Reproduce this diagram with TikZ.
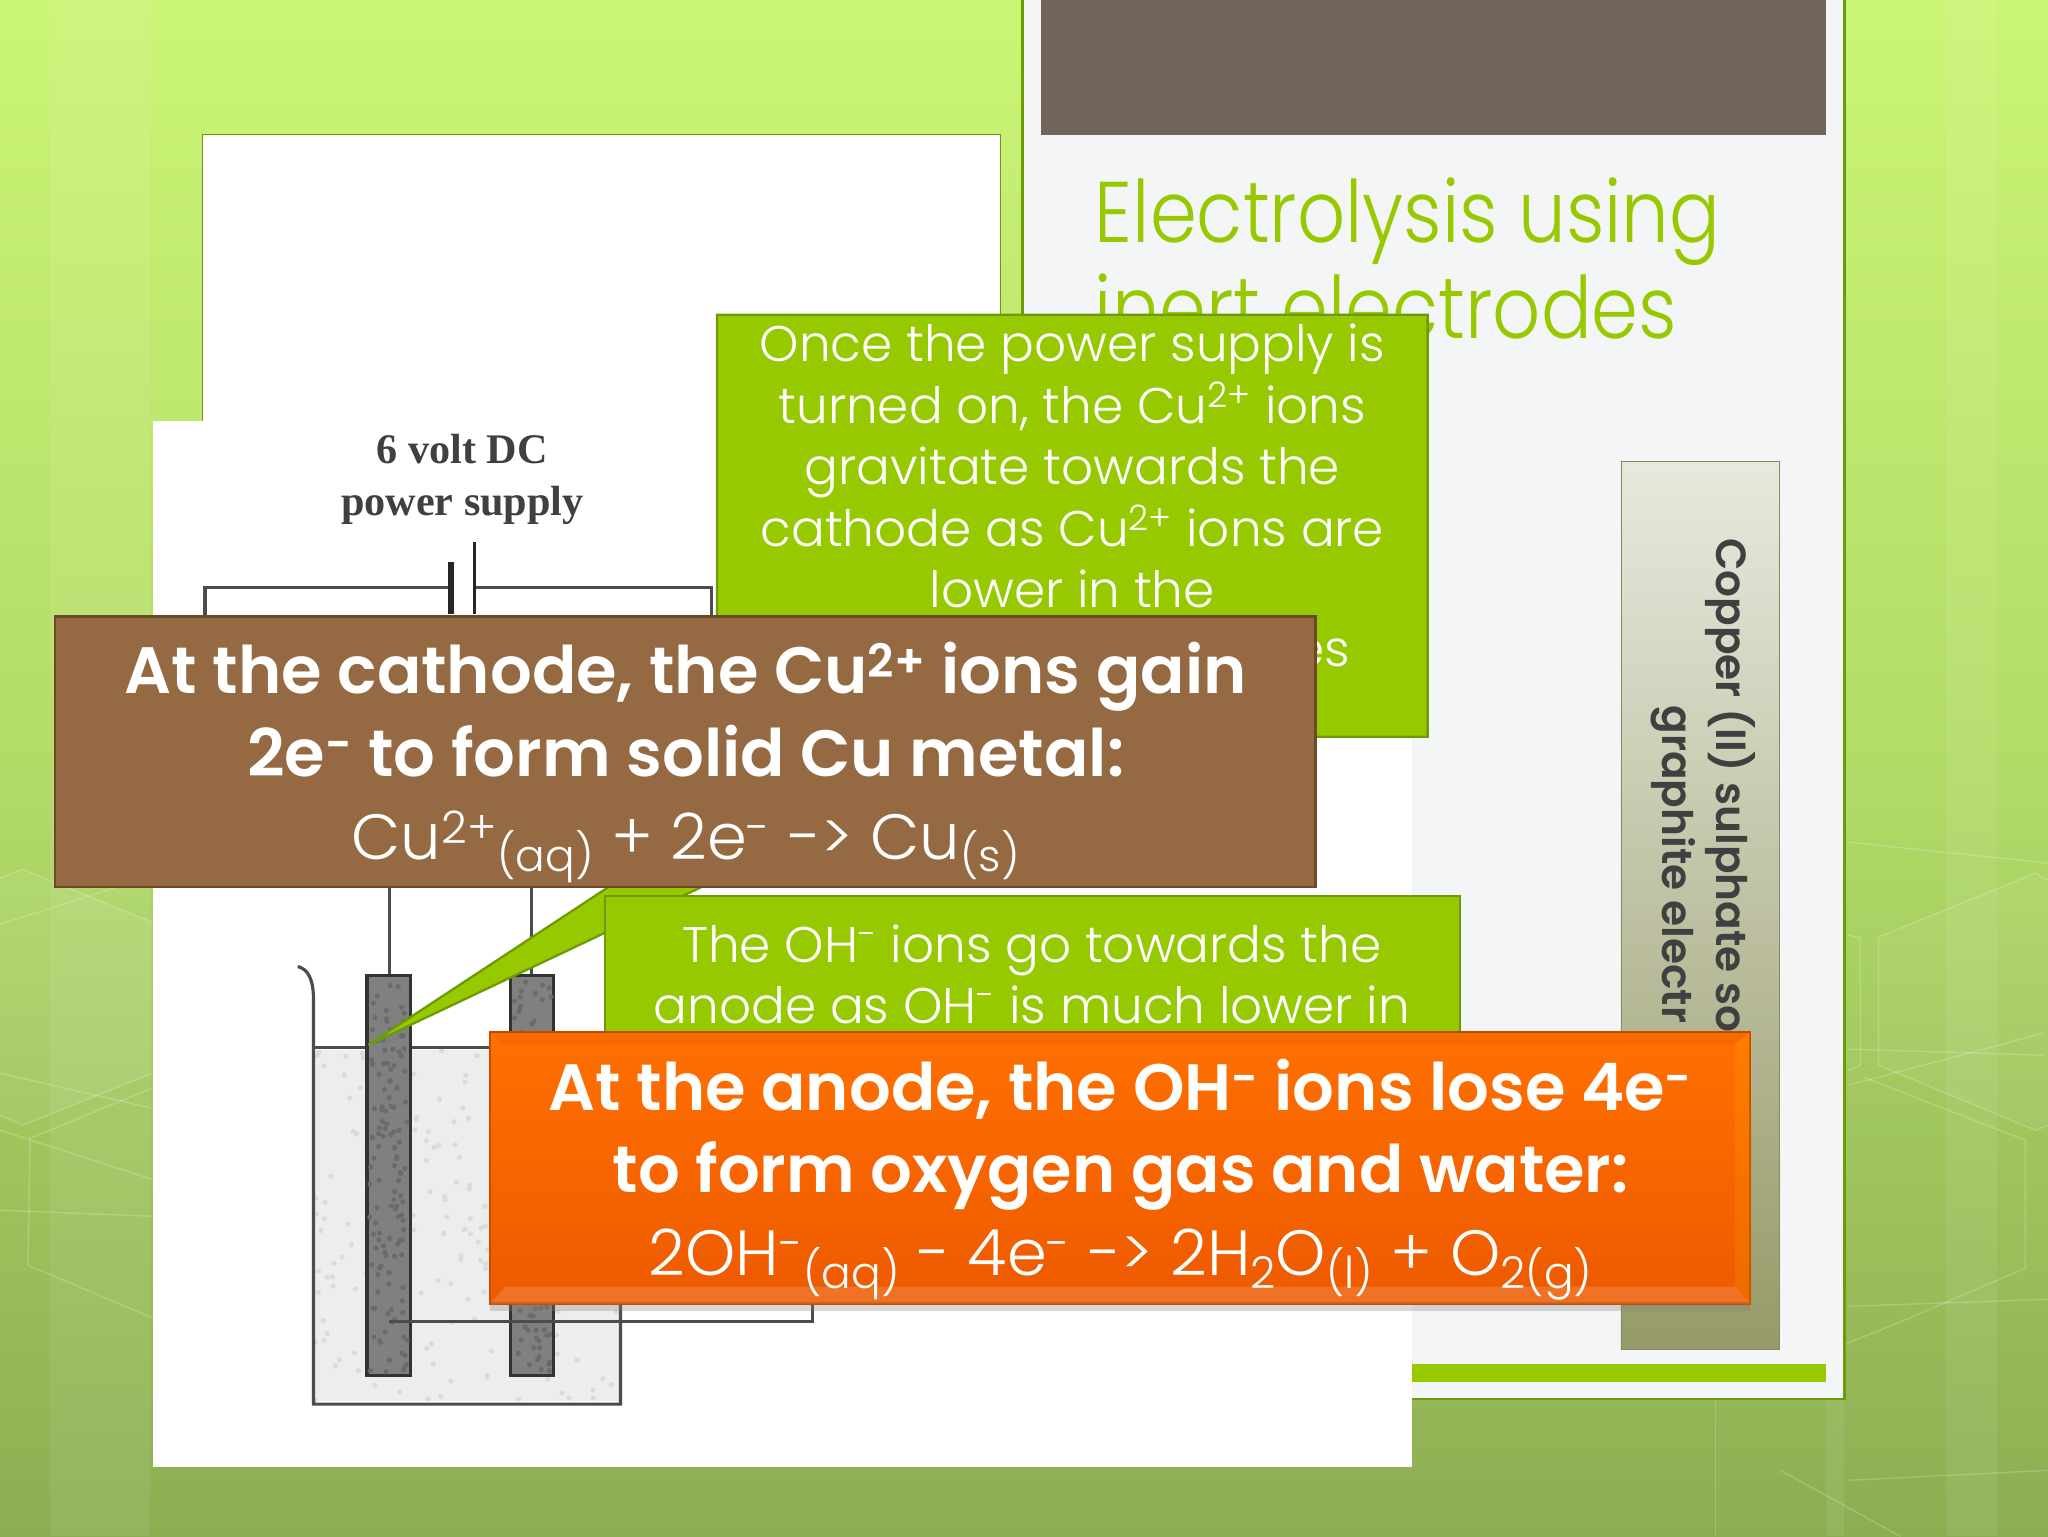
\documentclass[tikz,border=0pt]{standalone}
\usepackage{fontspec}
\setmainfont{Poppins}[UprightFont=* Light,BoldFont=* SemiBold]
\newfontfamily\titlefont{Poppins}[UprightFont=* Light,FakeStretch=0.875]
\usetikzlibrary{positioning, shadows}

\definecolor{leaftop}{HTML}{CBF574}
\definecolor{leafmid}{HTML}{B2DB68}
\definecolor{leafbot}{HTML}{8CAE52}
\definecolor{boxgreen}{HTML}{97C900}
\definecolor{edgegreen}{HTML}{6E9A0A}
\definecolor{boxbrown}{HTML}{956A43}
\definecolor{edgebrown}{HTML}{6B4A2A}
\definecolor{panelgray}{HTML}{F4F5F6}
\definecolor{bandgray}{HTML}{72665B}
\definecolor{labeltop}{HTML}{E8E9DE}
\definecolor{labelbot}{HTML}{969A68}
\definecolor{orangetop}{HTML}{FF7000}
\definecolor{orangebot}{HTML}{ED5A00}

\newcommand{\boldline}[1]{{\fontsize{37.3}{47}\selectfont\bfseries #1}}
\newcommand{\lowpart}[1]{\raisebox{-0.2em}{\fontsize{25}{25}\selectfont #1}}

\tikzset{
    sheet/.style={fill=white},
    callout/.style={fill=boxgreen, draw=edgegreen, line width=1.3pt},
    bodytext/.style={align=center, text=white, font=\fontsize{28.5}{35}\selectfont},
    bigtext/.style={align=center, text=white, font=\fontsize{36.4}{47}\selectfont},
    titletext/.style={anchor=base west, text=boxgreen, font=\fontsize{49}{54}\titlefont, inner sep=0pt},
    sidetext/.style={anchor=west, rotate=-90, text=black!75, font=\fontsize{24}{30}\selectfont\bfseries, inner sep=0pt},
    wire/.style={draw=black!70, line width=1.8pt},
    rod/.style={fill=black!50, draw=black!80, line width=1.8pt},
    hexline/.style={draw=white, opacity=0.2, line width=0.8pt},
    band/.style={fill=white, opacity=0.07},
}

\begin{document}
\begin{tikzpicture}[x=0.0261224cm, y=-0.0261224cm]
    \useasboundingbox (0,0) rectangle (1568,1176);

    % background
    \shade[top color=leaftop, bottom color=leafbot, middle color=leafmid] (0,0) rectangle (1568,1176);
    \fill[band] (38,0) rectangle (76,1176);
    \fill[band] (76,0) rectangle (115,1176);
    \fill[band] (1490,0) rectangle (1529,1176);
    \fill[band] (1398,1071) rectangle (1412,1176);

    % hexagon lines, numbers are pixels of the full slide
    \begin{scope}[x=0.02cm, y=-0.02cm]
        \fill[white, opacity=0.07] (0,878) -- (22,869) -- (152,922) -- (152,1073) -- (23,1125) -- (0,1115) -- cycle;
        \fill[white, opacity=0.05] (1878,937) -- (2035,873) -- (2048,880) -- (2048,1125) -- (2035,1130) -- (1878,1065) -- cycle;
        \draw[hexline] (0,878) -- (22,869) -- (152,922);
        \draw[hexline] (0,924) -- (152,876);
        \draw[hexline] (0,1073) -- (152,1108);
        \draw[hexline] (0,1115) -- (23,1125) -- (152,1073);
        \draw[hexline] (0,1130) -- (152,1179);
        \draw[hexline] (152,1088) -- (30,1138) -- (28,1265) -- (165,1323) -- (300,1380);
        \draw[hexline] (0,1210) -- (152,1216);
        \draw[hexline] (1848,842) -- (2048,863);
        \draw[hexline] (2048,880) -- (2035,873) -- (1878,937) -- (1878,1065) -- (2035,1130) -- (2048,1125);
        \draw[hexline] (1848,1049) -- (2043,1055);
        \draw[hexline] (1848,1085) -- (2043,1033);
        \draw[hexline] (1848,935) -- (1860,938) -- (1860,1065) -- (1848,1070);
        \draw[hexline] (1863,1077) -- (2025,1140) -- (2025,1268) -- (1897,1323) -- (1780,1370);
        \draw[hexline] (1848,1306) -- (2048,1299);
        \draw[hexline] (1715,1400) -- (1715,1536);
        \draw[hexline] (1780,1470) -- (1900,1536);
        \draw[hexline] (1848,1480) -- (2048,1470);
    \end{scope}

    % right hand slide
    \fill[panelgray, draw=edgegreen, line width=1.5pt] (783,-2) rectangle (1412,1071);
    \fill[bandgray] (797,0) rectangle (1398,103);
    \fill[boxgreen] (797,1044) rectangle (1398,1058);
    \node[titletext] (titleone) at (838,186) {Electrolysis using};
    \node[titletext] (titletwo) at (838,259) {inert electrodes};

    % label on its side
    \shade[top color=labeltop, bottom color=labelbot, draw=labelbot!90!black] (1241,353) rectangle (1362,1033);
    \node[sidetext] (solution) at (1325,412) {Copper (II) sulphate so};
    \node[sidetext] (graphite) at (1281,540) {graphite electr};

    % white sheets of the scanned figure
    \fill[sheet] (155,322) -- (155,103) -- (766,103) -- (766,322) -- cycle;
    \draw[edgegreen, line width=0.6pt] (155,322) -- (155,103) -- (766,103) -- (766,322);
    \fill[sheet] (117,322) rectangle (766,1123);
    \fill[sheet] (766,565) rectangle (1081,1123);

    % cell
    \node[align=center, text=black!75, font=\fontsize{24}{30}\selectfont\fontspec{Liberation Serif}\bfseries] (supply) at (354,367) {6 volt DC\\power supply};
    \coordinate (battl) at (345,450);
    \coordinate (battr) at (363,450);
    \draw[wire] (157,472) -- (157,450) -- (battl);
    \draw[wire] (battr) -- (545,450) -- (545,472);
    \draw[draw=black!85, line width=3.5pt] (345,430) -- (345,470);
    \draw[draw=black!85, line width=1.8pt] (363,415) -- (363,470);
    \fill[black!7] (240,804) rectangle (474,1073);
    \pgfmathsetseed{11}
    \foreach \i in {1,...,220} {
        \fill[black!14] ({240+234*rnd},{804+269*rnd}) circle (2);
    }
    \draw[wire] (228,740) .. controls (236,742) and (240,750) .. (240,765) -- (240,1075) -- (475,1075) -- (475,990);
    \draw[wire] (240,802) -- (281,802) (314,802) -- (391,802) (424,802) -- (480,802);
    \draw[wire] (298,679) -- (298,747);
    \draw[wire] (407,679) -- (407,747);
    \draw[rod] (281,747) rectangle (314,1053);
    \draw[rod] (391,747) rectangle (424,1053);
    \foreach \i in {1,...,130} {
        \fill[black!58] ({283+29*rnd},{749+302*rnd}) circle (2);
        \fill[black!58] ({393+29*rnd},{749+302*rnd}) circle (2);
    }
    \draw[wire] (298,1012) -- (622,1012) -- (622,990);

    % first green callout
    \draw[callout] (549,241) -- (1093,241) -- (1093,564) -- (780,564) -- (282,800) -- (641,564) -- (549,564) -- cycle;
    \node[bodytext] (oncetext) at (821,357) {Once the power supply is\\turned on, the Cu\textsuperscript{2+} ions\\gravitate towards the\\cathode as Cu\textsuperscript{2+} ions are\\lower in the};
    \node[bodytext, anchor=base east, inner sep=0pt] (seriestext) at (1034,510) {es};

    % second green box
    \draw[callout] (463,686) rectangle (1118,820);
    \node[bodytext] (ohtext) at (790,746) {The OH\textsuperscript{-} ions go towards the\\anode as OH\textsuperscript{-} is much lower in};

    % cathode box
    \fill[boxbrown, draw=edgebrown, line width=1.5pt] (42,472) rectangle (1007,679);
    \node[bigtext] (cathodetext) at (525,584) {\boldline{At the cathode, the Cu\textsuperscript{2+} ions gain}\\\boldline{2e\textsuperscript{-} to form solid Cu metal:}\\Cu\textsuperscript{2+}\lowpart{(aq)} + 2e\textsuperscript{-} -> Cu\lowpart{(s)}};

    % anode box
    \shade[top color=orangetop, bottom color=orangebot, draw=orangebot!85!black, line width=1.2pt, drop shadow={opacity=0.3, shadow xshift=0pt, shadow yshift=-4pt}] (375,790) rectangle (1340,998);
    \fill[white, opacity=0.14] (375,998) -- (387,985) -- (1328,985) -- (1340,998) -- cycle;
    \fill[yellow, opacity=0.1] (1340,790) -- (1328,800) -- (1328,985) -- (1340,998) -- cycle;
    \fill[black, opacity=0.04] (375,790) -- (1340,790) -- (1328,800) -- (387,800) -- cycle;
    \node[bigtext] (anodetext) at (858,903) {\boldline{At the anode, the OH\textsuperscript{-} ions lose 4e\textsuperscript{-}}\\\boldline{to form oxygen gas and water:}\\2OH\textsuperscript{-}\lowpart{(aq)} - 4e\textsuperscript{-} -> 2H\lowpart{2}O\lowpart{(l)} + O\lowpart{2(g)}};

\end{tikzpicture}
\end{document}
